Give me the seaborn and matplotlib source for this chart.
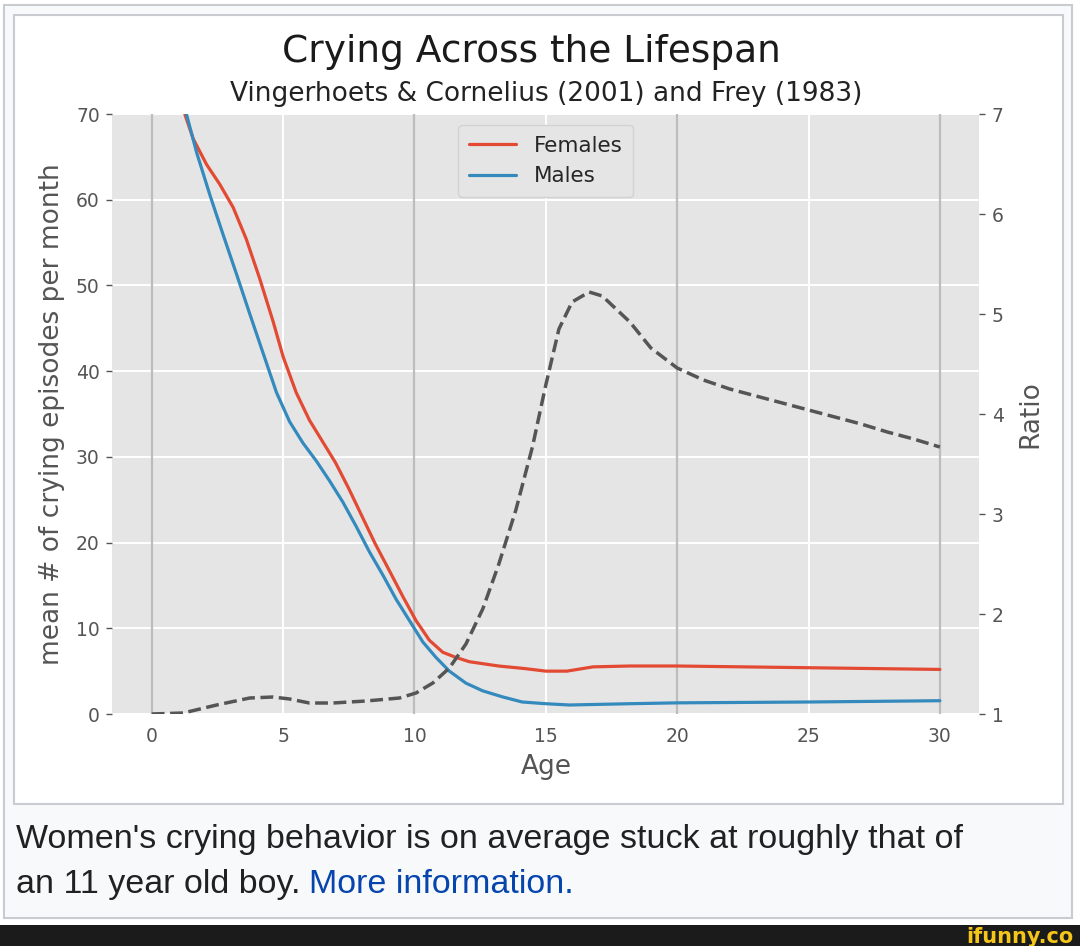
import numpy as np
import pandas as pd
import seaborn as sns
import matplotlib.pyplot as plt
from matplotlib.patches import Rectangle

# values
age_f = [0, 1.27, 1.58, 2.09, 2.59, 3.1, 3.6, 4.11, 4.62, 5.0, 5.5, 6.0, 6.5, 7.0, 7.5,
         8.0, 8.5, 9.05, 9.56, 10.06, 10.57, 11.08, 11.58, 12.09, 13.2, 14.2, 15.0, 15.8,
         16.8, 18.2, 20, 25, 30]
females = [90, 69.9, 67.1, 64.1, 61.8, 59.1, 55.4, 50.8, 45.8, 41.7, 37.5, 34.3, 31.8, 29.3, 26.3,
           23.1, 19.9, 16.7, 13.7, 10.9, 8.6, 7.2, 6.6, 6.1, 5.6, 5.3, 5.0, 5.0,
           5.5, 5.6, 5.6, 5.4, 5.2]

age_m = [0, 1.33, 1.71, 2.22, 2.72, 3.23, 3.73, 4.24, 4.75, 5.25, 5.76, 6.27, 6.77, 7.28, 7.78,
         8.29, 8.8, 9.3, 9.81, 10.32, 10.82, 11.33, 11.96, 12.6, 13.35, 14.1, 15.0, 15.9,
         18.2, 20, 25, 30]
males = [90, 69.9, 65.5, 60.5, 55.9, 51.3, 46.7, 42.1, 37.5, 34.1, 31.6, 29.5, 27.2, 24.7, 21.9,
         18.9, 16.2, 13.4, 10.9, 8.4, 6.6, 5.0, 3.6, 2.7, 2.0, 1.4, 1.2, 1.05,
         1.2, 1.3, 1.4, 1.55]

age_r = [0, 1.2, 2.47, 3.73, 4.62, 5.25, 6.0, 6.9, 8.16, 9.43, 10.06, 10.7, 11.33, 11.96, 12.6,
         13.2, 13.86, 14.49, 15.0, 15.5, 16.0, 16.65, 17.15, 18.2, 19, 20, 21, 22, 23, 24,
         25, 26, 27, 28, 29, 30]
ratio = [1.0, 1.01, 1.09, 1.16, 1.17, 1.15, 1.11, 1.11, 1.13, 1.16, 1.21, 1.31, 1.46, 1.70, 2.05,
         2.49, 3.04, 3.67, 4.29, 4.85, 5.12, 5.22, 5.18, 4.92, 4.66, 4.46, 4.34, 4.25, 4.18, 4.11,
         4.04, 3.97, 3.90, 3.82, 3.75, 3.67]

df_f = pd.DataFrame({'Age': age_f, 'val': females})
df_m = pd.DataFrame({'Age': age_m, 'val': males})
df_r = pd.DataFrame({'Age': age_r, 'ratio': ratio})

sns.set_theme(style='darkgrid', rc={'axes.facecolor': '#E5E5E5', 'grid.color': 'white',
                                    'grid.linewidth': 1.4})
plt.rcParams['font.family'] = ['DejaVu Sans']

fig = plt.figure(figsize=(10.8, 9.46), dpi=100)
fig.patch.set_facecolor('white')

# page frame (wiki thumbnail box)
bg = fig.add_axes([0, 0, 1, 1])
bg.set_xlim(0, 1080)
bg.set_ylim(946, 0)
bg.axis('off')
bg.add_patch(Rectangle((4, 5), 1068, 913, fc='#f8f9fa', ec='#c8ccd1', lw=1.5))
bg.add_patch(Rectangle((14, 15), 1049, 789, fc='white', ec='#c8ccd1', lw=1.5))
bg.add_patch(Rectangle((0, 925), 1080, 21, fc='#1b1b1b', ec='none'))

bg.text(531, 62, 'Crying Across the Lifespan', fontsize=27, ha='center', va='baseline', color='#1a1a1a')
bg.text(546, 101, 'Vingerhoets & Cornelius (2001) and Frey (1983)', fontsize=19, ha='center',
        va='baseline', color='#222222')

cap = dict(fontsize=24.5, family=['Liberation Sans', 'DejaVu Sans'], va='baseline')
bg.text(16, 848, "Women's crying behavior is on average stuck at roughly that of", color='#202122', **cap)
t2 = bg.text(16, 893, "an 11 year old boy.", color='#202122', **cap)
bg.annotate("More information.", xy=(1, 0), xycoords=t2, xytext=(6, 0), textcoords='offset points',
            va='bottom', ha='left', color='#0645ad', fontsize=24.5, family=['Liberation Sans', 'DejaVu Sans'])
bg.text(1074, 937, 'ifunny.co', fontsize=15, fontweight='bold', color='#f5c518', ha='right', va='center')

# chart
ax = fig.add_axes([112.3 / 1080, 232 / 946, 867 / 1080, 600 / 946])
for a in [0, 10, 20, 30]:
    ax.axvline(a, color='#bdbdbd', lw=1.6, zorder=1)
sns.lineplot(data=df_f, x='Age', y='val', ax=ax, color='#E24A33', lw=2.3, label='Females', zorder=3)
sns.lineplot(data=df_m, x='Age', y='val', ax=ax, color='#348ABD', lw=2.3, label='Males', zorder=3)
ax.set_xlim(-1.5, 31.5)
ax.set_ylim(0, 70)
ax.set_xticks(range(0, 31, 5))
ax.set_yticks(range(0, 71, 10))
ax.set_xlabel('Age', fontsize=19, color='#555555', labelpad=6)
ax.set_ylabel('mean # of crying episodes per month', fontsize=19, color='#555555', labelpad=8)
ax.tick_params(length=4, width=1, color='#555555', labelcolor='#555555', labelsize=13.5, pad=5)
for s in ax.spines.values():
    s.set_visible(False)
leg = ax.legend(loc='upper center', fontsize=15.5, frameon=True, facecolor='#E5E5E5',
                edgecolor='#d2d2d2', framealpha=1, borderpad=0.5, handlelength=2.2)

ax2 = ax.twinx()
sns.lineplot(data=df_r, x='Age', y='ratio', ax=ax2, color='#555555', lw=2.5, linestyle='--', legend=False)
ax2.set_ylim(1, 7)
ax2.grid(False)
ax2.set_ylabel('Ratio', fontsize=19, color='#555555', labelpad=10)
ax2.tick_params(length=4, width=1, color='#555555', labelcolor='#555555', labelsize=13.5, pad=5)
for s in ax2.spines.values():
    s.set_visible(False)

fig.savefig('out.png', dpi=100)
